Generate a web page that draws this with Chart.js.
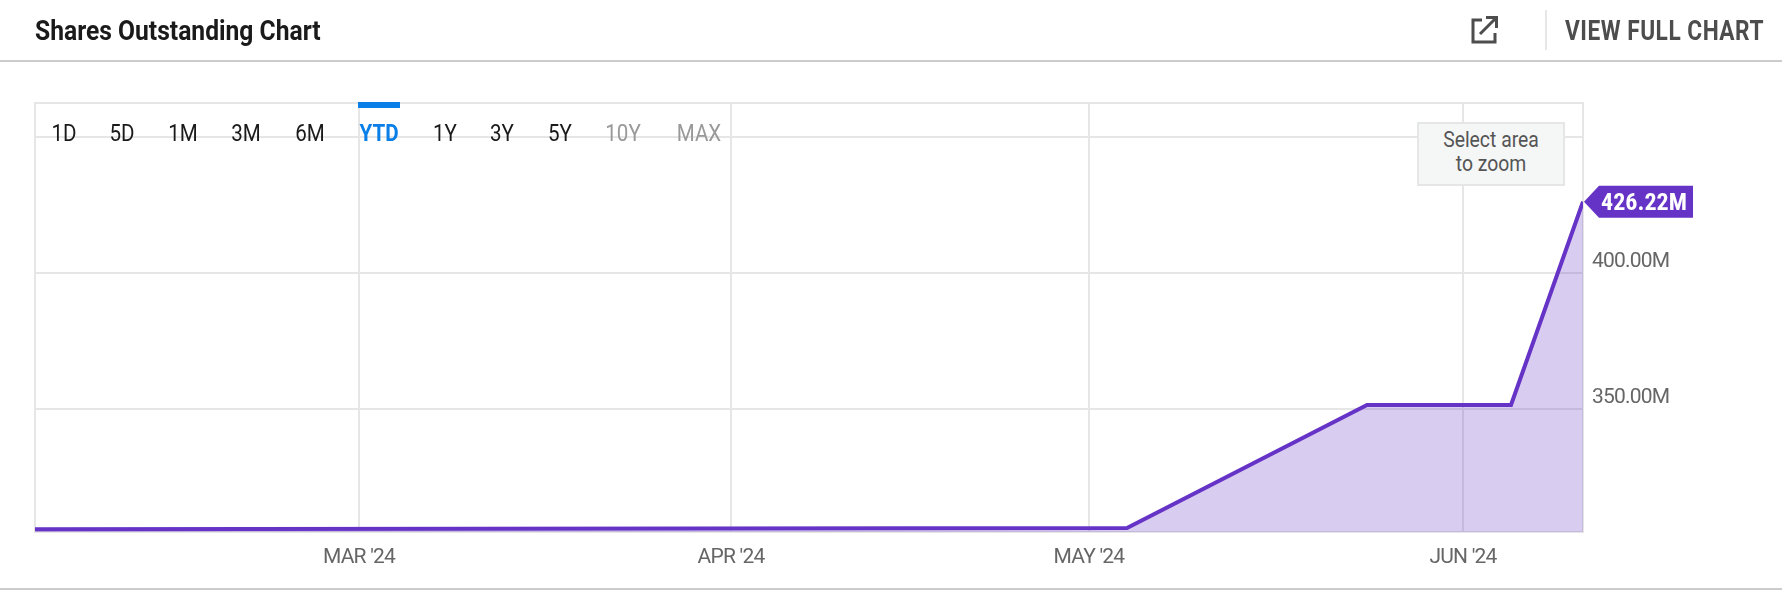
<!DOCTYPE html>
<html>
<head>
<meta charset="utf-8">
<title>Shares Outstanding Chart</title>
<script src="https://cdn.jsdelivr.net/npm/chart.js@4"></script>
<style>
    html, body { margin: 0; padding: 0; background: #fff; }
    body { width: 1782px; height: 590px; overflow: hidden; position: relative; font-family: Roboto, sans-serif; }
    canvas { position: absolute; left: 0; top: 0; }
    .squeeze { position: absolute; white-space: nowrap; transform-origin: 0 50%; }
    .title { left: 35px; top: 14px; font-size: 28px; line-height: 34px; font-weight: 700; color: #1a1a1a; transform: scaleX(.88); }
    .full { left: 1565px; top: 14px; font-size: 27px; line-height: 34px; font-weight: 700; color: #4d4d4d; letter-spacing: .6px; transform: scaleX(.84); }
    .rule { position: absolute; left: 0; width: 1782px; height: 2px; background: #ccc; }
    .sep { position: absolute; left: 1545px; top: 10px; width: 2px; height: 40px; background: #e6e6e6; }
    .icon { position: absolute; left: 1470px; top: 15px; }
    .range { position: absolute; top: 118px; font-size: 24.5px; line-height: 30px; color: #1a1a1a; transform: translateX(-50%) scaleX(.84); white-space: nowrap; }
    .range.on { color: #0a7fe8; font-weight: 700; }
    .range.off { color: #999; }
    .bar { position: absolute; left: 358px; top: 102px; width: 42px; height: 6px; background: #0a7fe8; }
    .hint { position: absolute; left: 1417px; top: 122px; width: 144px; height: 60px; background: #f5f7f6; border: 2px solid #e6e6e6; color: #555; font-size: 22px; line-height: 24px; text-align: center; padding-top: 0; }
    .hint span { display: block; position: relative; top: 4px; transform: scaleX(.88); }
</style>
</head>
<body>
<canvas id="sharesChart" width="1782" height="590"></canvas>
<div class="squeeze title">Shares Outstanding Chart</div>
<svg class="icon" width="28" height="29" viewBox="0 0 28 29" fill="none" stroke="#4d4d4d" stroke-width="3">
    <path d="M12 5H3V27H25V18"/>
    <path d="M10 19L26 3M16 2.5H26.5V13"/>
</svg>
<div class="sep"></div>
<div class="squeeze full">VIEW FULL CHART</div>
<div class="rule" style="top:60px"></div>
<div class="rule" style="top:588px"></div>
<div class="bar"></div>
<div id="ranges"></div>
<div class="hint"><span>Select area</span><span>to zoom</span></div>
<script>
const dates = ['2024-02-03', '2024-05-04', '2024-05-24', '2024-06-05', '2024-06-11'];
const shares = [305.8, 306.3, 351.5, 351.5, 426.22];
const yTicks = [350, 400, 450];
const yLabels = ['350.00M', '400.00M', ''];
const monthTicks = ['2024-03-01', '2024-04-01', '2024-04-30T20:00:00Z', '2024-06-01'];
const monthLabels = ["MAR '24", "APR '24", "MAY '24", "JUN '24"];
const rangeNames = ['1D', '5D', '1M', '3M', '6M', 'YTD', '1Y', '3Y', '5Y', '10Y', 'MAX'];
const rangeCenters = [63.5, 121.7, 183, 246, 310, 378.6, 444.5, 502, 560, 623, 699];
const lastLabel = '426.22M';

const purple = '#6633c7';
const gridColor = '#e6e6e6';

//range selector row
const rangeHolder = document.getElementById('ranges');
rangeNames.forEach((name, i) => {
    const el = document.createElement('div');
    el.className = 'range' + (name === 'YTD' ? ' on' : '') + (name === '10Y' || name === 'MAX' ? ' off' : '');
    el.style.left = rangeCenters[i] + 'px';
    el.textContent = name;
    rangeHolder.appendChild(el);
});

//the axis font is a condensed one, tighten the tick labels a bit
const tightLabels = {
    id: 'tightLabels',
    beforeDraw(chart) {
        chart.ctx.letterSpacing = '-0.8px';
    }
};

//border around the plot, the library only does left/bottom
const plotBorder = {
    id: 'plotBorder',
    beforeDatasetsDraw(chart) {
        const { ctx, chartArea: a } = chart;
        ctx.save();
        ctx.strokeStyle = gridColor;
        ctx.lineWidth = 2;
        ctx.strokeRect(a.left, a.top, a.right - a.left, a.bottom - a.top);
        ctx.restore();
    }
};

//purple flag with the last value
const lastValueTag = {
    id: 'lastValueTag',
    afterDatasetsDraw(chart) {
        const { ctx, scales } = chart;
        const x = scales.x.getPixelForValue(Date.parse(dates[dates.length - 1]));
        const y = scales.y.getPixelForValue(shares[shares.length - 1]);
        ctx.save();
        ctx.fillStyle = purple;
        ctx.beginPath();
        ctx.moveTo(x + 1, y);
        ctx.lineTo(x + 16, y - 16);
        ctx.lineTo(x + 110, y - 16);
        ctx.lineTo(x + 110, y + 16);
        ctx.lineTo(x + 16, y + 16);
        ctx.closePath();
        ctx.fill();
        ctx.fillStyle = '#fff';
        ctx.font = 'condensed 700 24px Roboto';
        ctx.letterSpacing = '0px';
        ctx.textAlign = 'center';
        ctx.textBaseline = 'middle';
        ctx.fillText(lastLabel, x + 61, y + 2);
        ctx.restore();
    }
};

new Chart(document.getElementById('sharesChart'), {
    type: 'line',
    data: {
        labels: dates,
        datasets: [{
            data: dates.map((d, i) => ({ x: Date.parse(d), y: shares[i] })),
            borderColor: purple,
            borderWidth: 4,
            borderJoinStyle: 'miter',
            backgroundColor: 'rgba(102, 51, 199, 0.25)',
            fill: 'start',
            pointRadius: 0,
            tension: 0
        }]
    },
    options: {
        responsive: false,
        animation: false,
        layout: { padding: { left: 35, top: 103 } },
        plugins: { legend: { display: false }, tooltip: { enabled: false } },
        scales: {
            x: {
                type: 'linear',
                min: Date.parse(dates[0]),
                max: Date.parse(dates[dates.length - 1]),
                afterBuildTicks: scale => { scale.ticks = monthTicks.map(d => ({ value: Date.parse(d) })); },
                afterFit: scale => { scale.height = 58; },
                grid: { color: gridColor, lineWidth: 2, drawTicks: false },
                border: { display: false },
                ticks: {
                    color: '#666',
                    padding: 13,
                    maxRotation: 0,
                    autoSkip: false,
                    font: { family: 'Roboto', size: 21 },
                    callback: (value, i) => monthLabels[i]
                }
            },
            y: {
                position: 'right',
                min: 304.8,
                max: 462.5,
                afterBuildTicks: scale => { scale.ticks = yTicks.map(v => ({ value: v })); },
                afterFit: scale => { scale.width = 199; },
                grid: { color: gridColor, lineWidth: 2, drawTicks: false },
                border: { display: false },
                ticks: {
                    color: '#666',
                    padding: 9,
                    labelOffset: -11,
                    font: { family: 'Roboto', size: 21 },
                    callback: (value, i) => yLabels[i]
                }
            }
        }
    },
    plugins: [tightLabels, plotBorder, lastValueTag]
});
</script>
</body>
</html>
